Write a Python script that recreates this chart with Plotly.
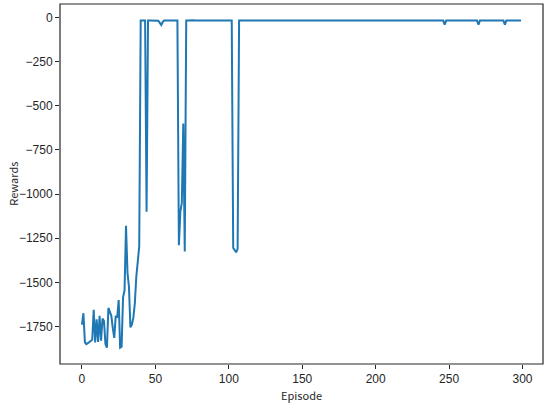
import plotly.graph_objects as go

# Rewards per episode
early_rewards = [
    -1740, -1675, -1840, -1850, -1845, -1838, -1835, -1825, -1655, -1840,
    -1710, -1838, -1690, -1830, -1705, -1720, -1850, -1870, -1645, -1665,
    -1690, -1760, -1815, -1690, -1700, -1600, -1870, -1865, -1585, -1545,
    -1180, -1445, -1525, -1755, -1740, -1700, -1620, -1470, -1380, -1295,
]
mid_rewards = [
    -17, -17, -17, -17, -1100, -17, -17, -17, -17, -17,    # 40-49
    -17, -17, -18, -30, -42, -25, -17, -17, -17, -17,      # 50-59
    -17, -17, -17, -17, -17, -17, -1290, -1100, -1050, -600,  # 60-69
    -1325, -17, -17, -16, -16, -16, -16, -17, -17, -17,    # 70-79
    -17, -17, -17, -17, -17, -17, -17, -17, -17, -16,      # 80-89
    -16, -16, -17, -17, -17, -17, -17, -17, -17, -17,      # 90-99
    -17, -17, -17, -1305, -1315, -1330, -1310, -17, -17, -17,  # 100-109
]
late_rewards = [
    -17, -17, -17, -17, -17, -17, -17, -17, -17, -17,      # 110-119
    -17, -17, -17, -17, -17, -17, -17, -17, -17, -17,      # 120-129
    -17, -17, -17, -17, -17, -17, -17, -17, -17, -17,      # 130-139
    -17, -17, -17, -17, -17, -17, -17, -17, -17, -17,      # 140-149
    -17, -17, -17, -17, -17, -17, -17, -17, -17, -17,      # 150-159
    -17, -17, -17, -17, -17, -17, -17, -17, -17, -17,      # 160-169
    -17, -17, -17, -17, -17, -17, -17, -17, -17, -17,      # 170-179
    -17, -17, -17, -17, -17, -17, -17, -17, -17, -17,      # 180-189
    -17, -17, -17, -17, -17, -17, -17, -17, -17, -17,      # 190-199
    -17, -17, -17, -17, -17, -17, -17, -17, -17, -17,      # 200-209
    -17, -17, -17, -17, -17, -17, -17, -17, -17, -17,      # 210-219
    -17, -17, -17, -17, -17, -17, -17, -17, -17, -17,      # 220-229
    -17, -17, -17, -17, -17, -17, -17, -17, -17, -17,      # 230-239
    -17, -17, -17, -17, -17, -17, -17, -40, -17, -17,      # 240-249
    -17, -17, -17, -17, -17, -17, -17, -17, -17, -17,      # 250-259
    -17, -17, -17, -17, -17, -17, -17, -17, -17, -17,      # 260-269
    -40, -17, -17, -17, -17, -17, -17, -17, -17, -17,      # 270-279
    -17, -17, -17, -17, -17, -17, -17, -17, -40, -17,      # 280-289
    -17, -17, -17, -17, -17, -17, -17, -17, -17, -17,      # 290-299
]
rewards = early_rewards + mid_rewards + late_rewards
episodes = list(range(len(rewards)))

y_ticks = [0, -250, -500, -750, -1000, -1250, -1500, -1750]
x_ticks = [0, 50, 100, 150, 200, 250, 300]

# matplotlib-like 5% padding around the data
x_span = max(episodes) - min(episodes)
y_span = max(rewards) - min(rewards)
x_range = [min(episodes) - 0.05 * x_span, max(episodes) + 0.05 * x_span]
y_range = [min(rewards) - 0.05 * y_span, max(rewards) + 0.05 * y_span]

fig = go.Figure(go.Scatter(
    x=episodes,
    y=rewards,
    mode='lines',
    line=dict(color='#1f77b4', width=2),
))

axis_style = dict(
    showline=False, automargin=False,
    ticks='outside', ticklen=4, tickcolor='#262626', tickwidth=1,
    showgrid=False, zeroline=False,
    tickfont=dict(family='Liberation Sans, Arial, sans-serif', size=12, color='#262626'),
)

fig.update_layout(
    width=550, height=404,
    margin=dict(l=60, r=7, t=4, b=40),
    paper_bgcolor='white', plot_bgcolor='white',
    showlegend=False,
    font=dict(family='Noto Sans CJK SC, sans-serif', size=11, color='#262626'),
    shapes=[dict(type='rect', xref='x domain', yref='y domain',
                 x0=0, x1=1, y0=0, y1=1,
                 line=dict(color='#262626', width=1.2), layer='above')],
    annotations=[
        dict(text='Episode', xref='paper', yref='paper', x=0.5, y=-0.085,
             xanchor='center', yanchor='middle', showarrow=False,
             font=dict(size=11)),
        dict(text='Rewards', xref='paper', yref='paper', x=-0.098, y=0.5,
             textangle=-90, xanchor='center', yanchor='middle', showarrow=False,
             font=dict(size=11)),
    ],
)
fig.update_xaxes(range=x_range, tickvals=x_ticks, **axis_style)
fig.update_yaxes(range=y_range, tickvals=y_ticks, **axis_style)

# drop the browser's default page margin so the figure sits at the top-left
fig.write_html("out.html",
               config={'displayModeBar': False},
               post_script="document.body.style.margin='0';"
                           "document.body.style.overflow='hidden';")
